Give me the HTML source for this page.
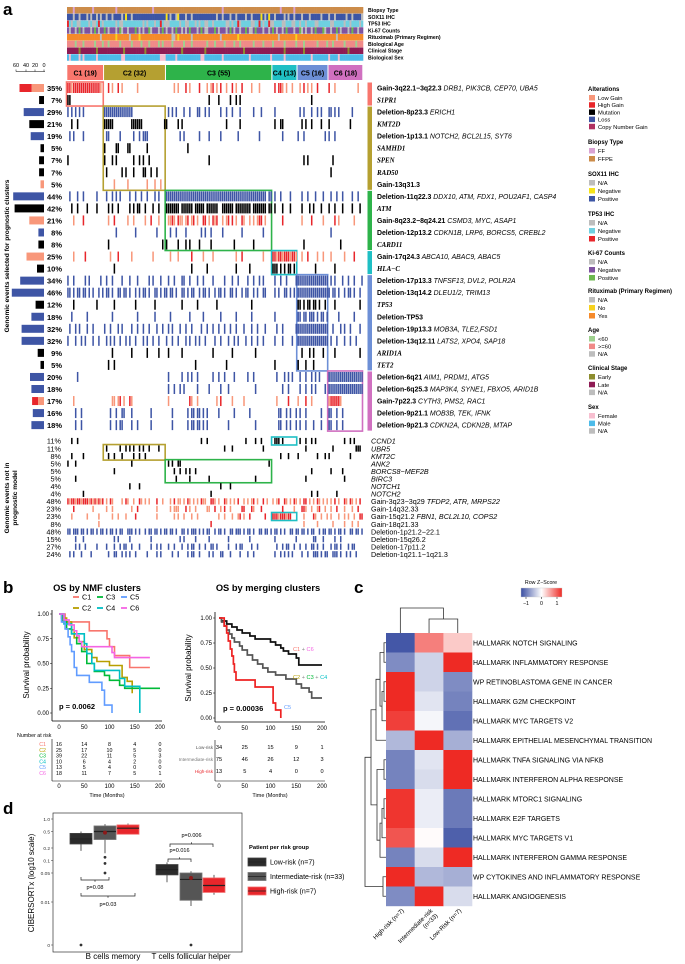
<!DOCTYPE html>
<html><head><meta charset="utf-8">
<style>
html,body{margin:0;padding:0;background:#fff;}
svg{display:block;font-family:"Liberation Sans",sans-serif;}
</style></head>
<body>
<svg id="chart" width="685" height="964" viewBox="0 0 685 964" xmlns="http://www.w3.org/2000/svg"></svg>
<script>
// ---------------- DATA ----------------
const clusterNames=["C1 (19)","C2 (32)","C3 (55)","C4 (13)","C5 (16)","C6 (18)"];
const clusterSizes=[19,32,55,13,16,18];
const trackLabels=["Biopsy Type","SOX11 IHC","TP53 IHC","Ki-67 Counts","Rituximab (Primary Regimen)","Biological Age","Clinical Stage","Biological Sex"];
const trackData=[
"FFFfFFFFFFFFFfFFFFFFFFFFFfFFFFFFFFFFFFFFFFFFfFFFFFFFFFFFFFFFFFFFFFFFFFFFFFFFFFFFfFFFFFFFFFFFFFFFFFFFFFFFFFFFFFfFFFFFFfFFFFFFFFFFFFFFFFFFFFFFFFFFFFFFFFFFFFf",
"PPPnPPnPPPnPnPPnPnPPnPPnPPPPnPyPPnPPPPPPPPPPPPPPPPPyPnPPnyPPPnPPnPPPPPPPPPPPPnPPnPPPnPPnPPPPnPPnPPPPyPnPyPPnPPPPnPnPPnPPPnPPPnPPPPPnPPPnPPnPPPPPnPPnPPPPnPP",
"rcnccnnccccncnncrcnccccccncnnccccccccccncncccnccrcnnncccccnccnncccncnccnnccnccccccnncnccrncccccnnccrcnccrnnccccnncccnnccnccnccccnnccccccnncccccnccnccccnc",
"pnppnpgpnpppnpgpnppgpnpppnpgnppnpppgpnpnppgnpppnpgpnppnpgppnpnpgpppnpgpnnpppgpnpppnpgpnppnppgpnnpgpppnppnpgpnppnpgpppnppgnpnppnpgpppgnppnppgpnpppnpgppnpppgn",
"ooooooooooooooooonoooooooyoooooonooooyoooooooooooooooonnoyoooooonoooooooooooooonooooooooyoooooooooooooooooooonooooooooyoooooooooooooooooooonooooooooooooooooo",
"ssssgsssgsssssgsssgssgsssssgsssssgssssgsssgssssgsgssssgsssssgsssgsssssssgsssgssssgssssgssgssssssgssssgssssgsssssgsssssgsssgssssssgssssgssgsssssgsssssgssssssg",
"mmmmmmommmmmmmmommmmmmmmmmmmmommmmmmmmmmommmmmmmmmmmmmmmmmmommmmmmmmmmmommmmmmmmmmmmmmmmmmmommmmmmmmmmmmmmmmmmmmommmmmmmmmommmmmmmmmmmmmmmmmmmmmmommmmmmmmm",
"bkbbbbkbkbbbbbbkbbbbbbbbbbbbkkbbbbbbbbbbbbbbbbbbkkkbbbbbkbbbbbbbbbbbbkkbbbbbbbbbkbbbbbbbbbbbbbkbbbbbbbbbbkbbbbbbkbbbbbbbbbbbbbkbbbbbbbbkbbbbkbbbbbbbbbbbbbbk"
];
const upperPct=[35,7,29,21,19,5,7,7,5,44,42,21,8,8,25,10,34,46,12,18,32,32,9,5,20,18,17,16,18];
const upperType=["gain","mut","loss","mut","loss","mut","mut","mut","gain","loss","mut","gain","loss","mut","gain","mut","loss","loss","mut","loss","loss","loss","mut","mut","loss","loss","gain","loss","loss"];
const upperBold=["Gain-3q22.1\u22123q22.3","S1PR1","Deletion-8p23.3","KMT2D","Deletion-1p13.1","SAMHD1","SPEN","RAD50","Gain-13q31.3","Deletion-11q22.3","ATM","Gain-8q23.2\u22128q24.21","Deletion-12p13.2","CARD11","Gain-17q24.3","HLA\u2212C","Deletion-17p13.3","Deletion-13q14.2","TP53","Deletion-TP53","Deletion-19p13.3","Deletion-13q12.11","ARID1A","TET2","Deletion-6q21","Deletion-6q25.3","Gain-7p22.3","Deletion-9p21.1","Deletion-9p21.3"];
const upperGenes=["DRB1, PIK3CB, CEP70, UBA5","","ERICH1","","NOTCH2, BCL2L15, SYT6","","","","","DDX10, ATM, FDX1, POU2AF1, CASP4","","CSMD3, MYC, ASAP1","CDKN1B, LRP6, BORCS5, CREBL2","","ABCA10, ABAC9, ABAC5","","TNFSF13, DVL2, POLR2A","DLEU1/2, TRIM13","","","MOB3A, TLE2,FSD1","LATS2, XPO4, SAP18","","","AIM1, PRDM1, ATG5","MAP3K4, SYNE1, FBXO5, ARID1B"," CYTH3, PMS2, RAC1","MOB3B, TEK, IFNK","CDKN2A, CDKN2B, MTAP"];
const upperGeneOnly=[0,1,0,1,0,1,1,1,0,0,1,0,0,1,0,1,0,0,1,0,0,0,1,1,0,0,0,0,0];
const upperRows=[
"hhlhhhhhhhhhhhhhhl.|..h.l..h.l.......l..............|....l.l...h.l....h...l.lh.l.h..l..h.l..h....l...l..|.h.hhl.l..l..|.l.h.l.l..h.....|h..l...........l..",
"mm.................|................................|......................m....m.....m..m.m........|.............|.......m........|..................",
"d.d.d.d.d..........|ddddddddddddddd.................|.d.d.d...d..d...dd..d.d.....d..d..d...d......d...d...|.d...........|.d.d...d..d.d..|dd.d.d......d.....",
"..m..m.............|mmmmm.........mmmmmm...........m|m.....m.m......................m......m............|.m..mm.......|..m.m..m....m...|m..........m......",
".d.d....d..........|.dd.....d......d..d.ddd.........|.......d.d.......d....d.....d........d..........d...|.....d.......|d..d..........d.|d..d..............",
"...................|m.....mm....mm........m.........|...........m..........................................|.............|................|..................",
"m..................|m...m.m........m..m.m..m........|......................m.........................|.............|...m.m..........|..m...............",
"...................|.m.......m.m...m....mm..m..m....|......................................................|.............|................|.m................",
"...................|.....l......l.........l...l..l..|.......................................................|.............|................|..................",
".d...d..d......d...|.d..d.d.d....d..d..d..d...d.d..|dddddddddddddddddddddddddddddddddddddddddddddddddddd.dd|.d..d....d...|..d..d...d...d..|.d..d..d....d..d..",
"..m..m....m....m...|..m.m..m.....m.m.mm..m...m..m..|mmmmmmm.mmmmmm.mmmmm.mmmmmm..mmmmmm.mmmmmmmm.mmmmmmm.mm|.m...m...m...|..m...m.m...m...|m..m...m....m...m.",
"...l....h..........|..l..h......l..l.....l..h...l....|.llhl.hll.lh.lh.l..hh.l.hlh..l.lh.h.l..hl..l.l.lhh.l..|.....h.......|..l....h.....l..|...h.l.......l....",
"...................|......d.........d..........d....|..d..d....d.......d.d..d.....d.........d..........d|.............|................|.d................",
"...................|..m...........................m.|m.....m...m.m....m.....m...........m.........m....|.............|...m............|......m...........",
"...l.....h.........|...l...h......l..........l......|..l...l......h.....l....l...........l..h..........l...|hhlhhlhhhlhhl|..l..h....l..l..|.l......l....h....",
"...................|.....m..........................|.............m.......m..............m......m..........|mmm.m.m.mm.m.|.........m......|...m..............",
"d..d.....d.d.....d.|.d..d....d...d...d.....d.d...d..|.d..d...dd..d...d..d....d.....d...d..d....d..d..d.d..|.d..d..d....d|dddddddddddddddd|.d.d...d..d..d...d",
"dd.d.dd.dd.d.d..d.d|.dd.d..dd.dd.d..d.d.dd.d..dd.d.d|d.dd.d..dd.d.dd..d.dd.d..d.dd.d..dd.d..d.dd..d.d..dd.|.d.d..dd.d.d.|dddddddddddddddd|d.dd.d..d.dd.d..d.",
"...m...........m...|.....m..........m.........m.....|........m.......m.........m.................m.......|.............|mm.m.mm.mm.m..m.|...m............m.",
"..d.......d........|....d............d........d.....|..d.........d......d........d.......d.......d......|.d...........|dd.dd.ddd.d.dd.d|.....d.......d....",
".d..d.d...d..d.....|d..d...d.d....d..d..d..d...d..d.|.d.d...d..d..d....d..d..d..d..d..d..d...d...d..d...d.|..d..d......d|dddddddddddddddd|..d...d.d..d....d.",
"d...d..d.d...d..d..|.d.d.d..d..d.d..d...d.d..d..d...|d..d..d...d.d..d.d..d....d..d...d..d.d...d..d..d..d...|.d...d....d..|dddddddddddddddd|.d..d...d..d..d...",
"...................|....m.........m.......m.....m....|.m......m...............m.........m...........m.....|.............|..m...m.m....m..|...m............m.",
"...................|..m..m.........................|...............m...............m.......................|.m...........|m...m...m.......|..................",
".....d.............|................................|.d......d..d.d..d.......d..d..d....d......d..d.......|..d...d.d.d..|.d..d..d.d.d....|dddddddddddddddddd",
"...................|................................|.d..d..d.d......d.....d.....d...d.............d....|.....d..d....|.d..d..d.d....d.|dddddddddddddddddd",
"...l...............|....ll.lh.l..hl.................|.l..........hl..l.........l.h.....l.....l.............|..l.....h....|l...h..l........|lhhhhhl...........",
"....d..d...........|...d..d..dd...d.........d.......|...d.......d.dd.dd.d.d.....d.......d.......d......|...dd..d.d..d|.d..d.......d...|dd..d..d..........",
"....d..d...........|...d..d.dd....d..d......d.......|...d.......d.dd.dd.d.d..........d.............d...|...dd..d.d..d|.d..d...d...d...|dd..d..d.........."
];
const lowerPct=[11,11,8,5,5,5,4,4,48,23,23,8,48,15,27,24];
const lowerLabel=["CCND1","UBR5","KMT2C","ANK2","BORCS8\u2212MEF2B","BIRC3","NOTCH1","NOTCH2","Gain-3q23\u22123q29","Gain-14q32.33","Gain-15q21.2","Gain-18q21.33","Deletion-1p21.2\u221222.1","Deletion-15q26.2","Deletion-17p11.2","Deletion-1q21.1\u22121q21.3"];
const lowerGenes=["","","","","","","","","  TFDP2, ATR, MRPS22","","  FBN1, BCL2L10, COPS2","","","","",""];
const lowerRows=[
"..m..m.............|................................|..................m..m...................m....m..m.|.mmm.m.......|.m..m..m.m......|........m..m.m....",
"...................|.m......m..m.m.m..m.m..m....m...|..............................m...m...............m..|.............|....m...........|..m...........mmm.",
"..m.....m..........|..m..m...m.....m..m..m..........|..........................................................|....m...m...|m.........m...m.|m..........m......",
"m...m..............|..............m.................|.m.m..mm.............................................m.|.............|................|..................",
"...................|.....m..........................|....m..m..m.m..m...........................................|.............|.......m........|.m.....m..........",
"....m..............|................................|.....m......m.........m.......................m..|.............|....m...........|........m.........",
"...................|.............m....m.............|............................m....m............................|.............|................|..................",
"........m..........|................................|.......................m....................................|.............|.......m..m.....|....m.............",
"hlhhlhhlhhhlhlhlhlh|.l.hl....l.hl..l..hl.l.l...h..l..|..l.h.ll.l.hl.l.l.hll..hhl.l..hl.l.l.h..l.l.lh.l..h.l.|l.lh..hl.l.hl|.l.hh.l.l.hl.l.l|.l.h.l..hl.hl.l.h.",
"...h.........l.....|.l..l.........l..h.........l.....|..l.lll...h.l..l.....ll..h..l.h..l.....hh...hl...h...|.....h.....l.|..hhl..l..lh..l.|.l..h...l...l..h..",
"..l.......l.....l..|....l..l...l....h..........l....|....l.l..l...l..l..........l..l...l..lh.l..h.......h....|hhhlhhhlhh...|...l....hl..l..l|.l...l..l.l..l..hh",
"................l..|................................|.......................h....................................|.............|...l......l.....|..l.....l...l..l..",
"dd.ddd.dd.d.dd.d.dd|.d.dd.d.dd..ddd.d.d..d.dd.dd.d.d|d.dd.d..dd.d.ddd.d.d.dd..d.dd.d..dd.ddd.d.dd.d..dd.dd.d|.dd.d.d..dd.d|d.dd.d.dd..d.dd.|dd.d.dd.d..dd.dd.d",
"....d...d..........|.....d.d.....d..........d.......|.......d.d.....d......d.........d..........d.......|.d..........d|........dd...d..|...d..d...........",
"....d.d..d.....d...|.d...d..d.dd..d...d.....d..d.d..|.d..d...d..d.dd..d..d..dd.d.....d...d.dd....d..d...|..d..d.dd..d.|.d..d..dd.d..d..|.d.dd.d...d.dd....",
".d.d...d....d......|..d..dd..d.d.d..d.....d....d.d..|...d..d....d.dd..d....d.d...dd...d....d...d..d...|.d..d.d.d.d..|..d..d..ddd.d.dd|..ddd.d..d.d..d..."
];
// KM panel b (time, survival) step points
const kmTicks=[0,50,100,150,200];
const kmYTicks=[0,0.25,0.5,0.75,1];
const nmfNames=["C1","C2","C3","C4","C5","C6"];
const nmfC1=[[0,1],[12,0.92],[60,0.83],[95,0.75],[100,0.67],[110,0.58],[140,0.46],[180,0.46]];
const nmfC2=[[0,1],[5,0.96],[15,0.92],[25,0.84],[30,0.76],[40,0.72],[50,0.64],[65,0.56],[75,0.52],[100,0.48],[125,0.36],[135,0.32],[145,0.2],[145,0.2]];
const nmfC3=[[0,1],[8,0.92],[15,0.85],[25,0.8],[35,0.7],[45,0.62],[55,0.5],[70,0.42],[90,0.38],[100,0.33],[120,0.28],[130,0.25],[200,0.25]];
const nmfC4=[[0,1],[10,0.9],[25,0.8],[50,0.7],[55,0.6],[65,0.5],[70,0.43],[120,0.35],[130,0.27],[160,0],[160,0]];
const nmfC5=[[0,1],[5,0.92],[12,0.85],[18,0.77],[22,0.69],[25,0.62],[30,0.46],[35,0.38],[55,0.38],[60,0.31],[85,0.23],[90,0.08],[105,0],[105,0]];
const nmfC6=[[0,1],[10,0.94],[20,0.89],[30,0.83],[35,0.78],[40,0.72],[45,0.67],[100,0.67],[105,0.61],[110,0.56],[180,0.56]];
const nmfRisk=[[16,14,8,4,0],[25,17,10,5,0],[39,22,11,5,3],[10,6,4,2,0],[13,5,4,0,0],[18,11,7,5,1]];
const mergeNames=["Low-risk","Intermediate-risk","High-risk"];
const mergeLow=[[0,1],[5,0.97],[15,0.94],[25,0.91],[35,0.88],[45,0.85],[60,0.82],[70,0.79],[100,0.76],[110,0.73],[120,0.7],[125,0.67],[135,0.64],[150,0.6],[155,0.53],[200,0.53]];
const mergeInter=[[0,1],[5,0.96],[10,0.92],[15,0.88],[20,0.84],[25,0.8],[30,0.76],[40,0.72],[45,0.68],[55,0.63],[65,0.58],[75,0.54],[85,0.5],[95,0.46],[110,0.43],[130,0.39],[150,0.34],[160,0.3],[175,0.26],[180,0.2],[200,0.2]];
const mergeHigh=[[0,1],[10,0.92],[15,0.85],[18,0.77],[22,0.69],[25,0.62],[28,0.54],[30,0.46],[33,0.38],[70,0.31],[95,0.31],[105,0.15],[110,0.08],[120,0],[120,0]];
const mergeRisk=[[34,25,15,9,1],[75,46,26,12,3],[13,5,4,0,0]];
// Heatmap panel c
const hmCols=["High-risk (n=7)","Intermediate-risk|(n=33)","Low-Risk (n=7)"];
const hmRows=["HALLMARK NOTCH SIGNALING","HALLMARK INFLAMMATORY RESPONSE","WP RETINOBLASTOMA GENE IN CANCER","HALLMARK G2M CHECKPOINT","HALLMARK MYC TARGETS V2","HALLMARK EPITHELIAL MESENCHYMAL TRANSITION","HALLMARK TNFA SIGNALING VIA NFKB","HALLMARK INTERFERON ALPHA RESPONSE","HALLMARK MTORC1 SIGNALING","HALLMARK E2F TARGETS","HALLMARK MYC TARGETS V1","HALLMARK INTERFERON GAMMA RESPONSE","WP CYTOKINES AND INFLAMMATORY RESPONSE","HALLMARK ANGIOGENESIS"];
const hmHigh=[-0.95,-0.65,1,1,0.9,-0.4,-0.7,-0.7,0.95,0.95,0.8,-0.7,1,-0.65];
const hmInter=[0.6,-0.25,-0.25,-0.15,-0.05,1,-0.15,-0.2,-0.1,-0.1,0.02,-0.2,-0.4,1];
const hmLow=[0.25,1,-0.65,-0.7,-0.8,-0.45,1,1,-0.75,-0.75,-0.9,1,-0.45,-0.2];
// Boxplot panel d  [min,q1,median,q3,max]
const bxCats=["B cells memory","T cells follicular helper"];
const bxGroups=["Low-risk (n=7)","Intermediate-risk (n=33)","High-risk (n=7)"];
const bxB=[[0.17,0.25,0.33,0.45,0.5],[0.15,0.32,0.5,0.68,0.75],[0.43,0.43,0.6,0.72,0.78]];
const bxT=[[0.03,0.045,0.06,0.08,0.09],[0.008,0.011,0.035,0.05,0.055],[0.015,0.017,0.025,0.038,0.045]];
const bxOutB=[[0],[0.12,0.085,0.05],[]];
const bxOutT=[[],[0],[]];
const bxMeanB=[null,0.47,null];
const bxMeanT=[null,0.038,null];
const bxYTicks=[1.0,0.5,0.2,0.1,0.05,0.01,0];
const bxYTickLabels=["1.0","0.5","0.2","0.1","0.05","0.01","0"];

// ---------------- HELPERS ----------------
const NS='http://www.w3.org/2000/svg';
const svg=document.getElementById('chart');
function mk(tag,attrs,parent){const e=document.createElementNS(NS,tag);for(const k in attrs)e.setAttribute(k,attrs[k]);(parent||svg).appendChild(e);return e;}
function tx(x,y,s,size,attrs,parent){const a=Object.assign({x:x,y:y,'font-size':size},attrs||{});const t=mk('text',a,parent);t.textContent=s;return t;}
function grp(name){const g=mk('g',{});return g;}

const C={low:'#f8977a',high:'#e8262b',mut:'#000',loss:'#3e55a5',cn:'#b03060'};
const codeCol={l:C.low,h:C.high,m:C.mut,d:C.loss,c:C.cn};
const clusterCols=['#f8766d','#b5a031','#2eb34a','#1fbfc4','#6d8fd6','#d070c0'];

// ---------------- PANEL A ----------------
const pa=grp('panel-a');
let lab=tx(3,15,'a',17,{'font-weight':'bold'},pa);


const X0=67, SW=296/153;
function sx(i){return X0+i*SW;}
const starts=[];{let s=0;clusterSizes.forEach(n=>{starts.push(s);s+=n;});}

// annotation tracks
const trackMaps=[{F:'#cc8c4a',f:'#d9a3d3'},{P:'#3c55a5',n:'#bdbdbd',y:'#f5e31a'},{c:'#6fd0e0',n:'#bdbdbd',r:'#e8262b'},{p:'#7e52a0',g:'#6cb84f',n:'#bdbdbd'},{o:'#f58a2a',y:'#f7d21e',n:'#bdbdbd'},{s:'#f08a88',g:'#9fd18f',n:'#bdbdbd'},{m:'#8e1b54',o:'#8d8d2e',n:'#bdbdbd'},{b:'#4dbbe9',k:'#f7bfd0',n:'#bdbdbd'}];
const ga=grp('annotation-tracks');
trackData.forEach((s0,k)=>{
  const s=s0.padEnd(153,s0);
  const y=7+k*6.75;
  for(let i=0;i<153;i++){
    const r=mk('rect',{x:sx(i).toFixed(2),y:y,width:(SW+0.3).toFixed(2),height:6.5,fill:trackMaps[k][s[i]]||'#bdbdbd'},ga);
    
    
  }
  const t=tx(368,y+5,trackLabels[k],5.2,{'font-weight':'bold'},ga);
  
  
});
// cluster headers
clusterNames.forEach((n,c)=>{
  const x1=sx(starts[c])+0.3, x2=sx(starts[c]+clusterSizes[c])-0.7;
  const r=mk('rect',{x:x1,y:65,width:x2-x1,height:15,fill:clusterCols[c]},pa);
  
  
  const t=tx((x1+x2)/2,75.5,n,7,{'font-weight':'bold','text-anchor':'middle'},pa);
  
  
});
// left axis for bars
const BARX=44, BPX=0.7;
mk('line',{x1:16,x2:45,y1:71.5,y2:71.5,stroke:'#000','stroke-width':0.6},pa);
[['60',16],['40',26],['20',35],['0',44]].forEach(a=>{tx(a[1],67,a[0],5.5,{'text-anchor':'middle'},pa);mk('line',{x1:a[1],x2:a[1],y1:69.5,y2:71.5,stroke:'#000','stroke-width':0.5},pa);});

function drawRows(rows,y0,dy,h,grpName){
  const g=grp(grpName);
  rows.forEach((row,r)=>{
    const parts=row.split('|');
    parts.forEach((p0,c)=>{
      const p=p0.padEnd(clusterSizes[c],'.').slice(0,clusterSizes[c]);
      for(let j=0;j<p.length;j++){
        const col=codeCol[p[j]]; if(!col) continue;
        const rc=mk('rect',{x:(sx(starts[c]+j)+0.2).toFixed(2),y:(y0+r*dy-h/2).toFixed(2),width:(SW*0.78).toFixed(2),height:h,fill:col},g);
        
        
      }
    });
  });
}
const UY=88, UDY=12.04, LY=441, LDY=7.55;
drawRows(upperRows,UY,UDY,10,'oncoprint-prognostic');
drawRows(lowerRows,LY,LDY,6.2,'oncoprint-other');

// boxes upper
function box(x1,x2,y1,y2,col,name){const r=mk('rect',{x:x1,y:y1,width:x2-x1,height:y2-y1,fill:'none',stroke:col,'stroke-width':1.6},pa);}
const groupRows=[[0,1],[2,8],[9,13],[14,15],[16,23],[24,28]];
groupRows.forEach((gr,c)=>{
  const x1=sx(starts[c])-0.5, x2=sx(starts[c]+clusterSizes[c])-0.5;
  box(x1,x2,UY+gr[0]*UDY-6,UY+gr[1]*UDY+6,clusterCols[c],'cluster-box');
  const r=mk('rect',{x:367.5,y:UY+gr[0]*UDY-5.5,width:4.5,height:(gr[1]-gr[0])*UDY+11,fill:clusterCols[c]},pa);
  
  
});
box(sx(19)-0.5,sx(51)-0.5,LY+LDY*1-4,LY+LDY*2+4,'#b5a031','cluster-box-lower');
box(sx(51)-0.5,sx(106)-0.5,LY+LDY*3-4,LY+LDY*5+4,'#2eb34a','cluster-box-lower');
box(sx(106)-0.5,sx(119)-0.5,LY-4,LY+4,'#1fbfc4','cluster-box-lower');
box(sx(106)-0.5,sx(119)-0.5,LY+LDY*10-4,LY+LDY*10+4,'#1fbfc4','cluster-box-lower');

// left bars and pct and right labels (upper)
const typeCol={gain:C.low,mut:C.mut,loss:C.loss};
upperPct.forEach((p,r)=>{
  const y=UY+r*UDY, w=p*BPX;
  if(upperType[r]==='gain'&&(r===0||r===26)){
    const b1=mk('rect',{x:BARX-w,y:y-4,width:w*0.5,height:8,fill:C.high},pa);
    
    
    const b2=mk('rect',{x:BARX-w*0.5,y:y-4,width:w*0.5,height:8,fill:C.low},pa);
    
    
  } else {
    const b=mk('rect',{x:BARX-w,y:y-4,width:w,height:8,fill:typeCol[upperType[r]]},pa);
    
    
  }
  const t=tx(62,y+3,p+'%',7.5,{'font-weight':'bold','text-anchor':'end'},pa);
  
  
  const lt=mk('text',{x:377,y:y+2.5,'font-size':6.9},pa);
  
  
  const s1=mk('tspan',{'font-weight':'bold'},lt);
  if(upperGeneOnly[r]){s1.setAttribute('font-family','Liberation Serif, serif');s1.setAttribute('font-style','italic');}
  s1.textContent=upperBold[r];
  if(upperGenes[r]){const s2=mk('tspan',{'font-style':'italic'},lt);s2.textContent=' '+upperGenes[r];}
});
lowerPct.forEach((p,r)=>{
  const y=LY+r*LDY;
  const t=tx(61,y+2.7,p+'%',7.3,{'text-anchor':'end'},pa);
  
  
  const lt=mk('text',{x:371,y:y+2.7,'font-size':7.2},pa);
  
  
  const s1=mk('tspan',{},lt);
  if(r<8)s1.setAttribute('font-style','italic');
  s1.textContent=lowerLabel[r];
  if(lowerGenes[r]){const s2=mk('tspan',{'font-style':'italic'},lt);s2.textContent=lowerGenes[r];}
});
let rl=tx(0,0,'Genomic events selected for prognostic clusters',6.6,{'font-weight':'bold','text-anchor':'middle',transform:'translate(9,256) rotate(-90)'},pa);

rl=tx(0,0,'Genomic events not in',6.6,{'font-weight':'bold','text-anchor':'middle',transform:'translate(9,498) rotate(-90)'},pa);

rl=tx(0,0,'prognostic model',6.6,{'font-weight':'bold','text-anchor':'middle',transform:'translate(17,498) rotate(-90)'},pa);


// legend
const lg=grp('legend-a');
const legendSpec=[
 ['Alterations',91,[['Low Gain',C.low],['High Gain',C.high],['Mutation',C.mut],['Loss',C.loss],['Copy Number Gain',C.cn]],7.2],
 ['Biopsy Type',144,[['FF','#d9a3d3'],['FFPE','#cc8c4a']],8],
 ['SOX11 IHC',176,[['N/A','#bdbdbd'],['Negative','#f5e31a'],['Positive','#3c55a5']],8],
 ['TP53 IHC',216,[['N/A','#bdbdbd'],['Negative','#6fd0e0'],['Positive','#e8262b']],8],
 ['Ki-67 Counts',255,[['N/A','#bdbdbd'],['Negative','#7e52a0'],['Positive','#6cb84f']],8],
 ['Rituximab (Primary Regimen)',293,[['N/A','#bdbdbd'],['No','#f7d21e'],['Yes','#f58a2a']],8],
 ['Age',332,[['<60','#9fd18f'],['>=60','#f08a88'],['N/A','#bdbdbd']],7.6],
 ['Clinical Stage',370,[['Early','#8d8d2e'],['Late','#8e1b54'],['N/A','#bdbdbd']],7.8],
 ['Sex',409,[['Female','#f7bfd0'],['Male','#4dbbe9'],['N/A','#bdbdbd']],7.6]
];
legendSpec.forEach(sp=>{
  const t=tx(588,sp[1],sp[0],6,{'font-weight':'bold'},lg);
  
  
  sp[2].forEach((it,i)=>{
    const y=sp[1]+9+i*sp[3];
    const r=mk('rect',{x:589,y:y-5,width:6,height:5.5,fill:it[1]},lg);
    
    
    const tt=tx(598,y,it[0],5.8,{},lg);
    
    
  });
});

// ---------------- PANEL B ----------------
function stepPath(pts,xs,ys){let d='M'+xs(pts[0][0])+','+ys(pts[0][1]);for(let i=1;i<pts.length;i++){d+=' H'+xs(pts[i][0]).toFixed(1)+' V'+ys(pts[i][1]).toFixed(1);}return d;}
const pb=grp('panel-b');
lab=tx(3,593,'b',17,{'font-weight':'bold'},pb);

// left KM
const kx1=t=>59+t*0.505, ky1=s=>713-s*99;
let tt=tx(97,591,'OS by NMF clusters',9.3,{'font-weight':'bold','text-anchor':'middle'},pb);

const nmfCols=['#f8766d','#b79f00','#00ba38','#00bfc4','#619cff','#f564e3'];
const legPos=[[73,597],[73,608],[97,597],[97,608],[121,597],[121,608]];
nmfNames.forEach((n,i)=>{
  const p=legPos[i];
  const l=mk('line',{x1:p[0],x2:p[0]+6,y1:p[1],y2:p[1],stroke:nmfCols[i],'stroke-width':1.8},pb);
  
  
  const t=tx(p[0]+9,p[1]+2.6,n,7.2,{},pb);
  
  
});
mk('line',{x1:52,x2:52,y1:610,y2:721,stroke:'#000','stroke-width':0.8},pb);
mk('line',{x1:52,x2:162,y1:721,y2:721,stroke:'#000','stroke-width':0.8},pb);
kmYTicks.forEach(v=>{const t=tx(49,ky1(v)+2,v.toFixed(2),6,{'text-anchor':'end'},pb);mk('line',{x1:50,x2:52,y1:ky1(v),y2:ky1(v),stroke:'#000','stroke-width':0.5},pb);});
kmTicks.forEach(v=>{const t=tx(kx1(v),729,String(v),6,{'text-anchor':'middle'},pb);});
tt=tx(0,0,'Survival probability',8,{'text-anchor':'middle',transform:'translate(29,665) rotate(-90)'},pb);

[nmfC1,nmfC2,nmfC3,nmfC4,nmfC5,nmfC6].forEach((d,i)=>{
  const p=mk('path',{d:stepPath(d,kx1,ky1),fill:'none',stroke:nmfCols[i],'stroke-width':1.6},pb);
  
  
});
tt=tx(59,709,'p = 0.0062',7.5,{'font-weight':'bold'},pb);

tt=tx(17,737,'Number at risk',5.3,{},pb);

mk('line',{x1:52,x2:52,y1:739,y2:781,stroke:'#000','stroke-width':0.6},pb);
mk('line',{x1:52,x2:162,y1:781,y2:781,stroke:'#000','stroke-width':0.6},pb);
nmfRisk.forEach((row,i)=>{
  const y=746+i*5.8;
  const t=tx(46,y,nmfNames[i],5.3,{'text-anchor':'end',fill:nmfCols[i]},pb);
  
  
  row.forEach((v,j)=>{const c=tx(kx1(kmTicks[j]),y,String(v),5.3,{'text-anchor':'middle'},pb);});
});
kmTicks.forEach(v=>{const t=tx(kx1(v),788,String(v),6,{'text-anchor':'middle'},pb);});
tt=tx(107,797,'Time (Months)',5.5,{'text-anchor':'middle'},pb);


// right KM
const kx2=t=>219+t*0.515, ky2=s=>718-s*100;
tt=tx(268,591,'OS by merging clusters',9.3,{'font-weight':'bold','text-anchor':'middle'},pb);

mk('line',{x1:215,x2:215,y1:612,y2:722,stroke:'#000','stroke-width':0.8},pb);
mk('line',{x1:215,x2:325,y1:722,y2:722,stroke:'#000','stroke-width':0.8},pb);
kmYTicks.forEach(v=>{const t=tx(212,ky2(v)+2,v.toFixed(2),6,{'text-anchor':'end'},pb);mk('line',{x1:213,x2:215,y1:ky2(v),y2:ky2(v),stroke:'#000','stroke-width':0.5},pb);});
kmTicks.forEach(v=>{const t=tx(kx2(v),730,String(v),6,{'text-anchor':'middle'},pb);});
tt=tx(0,0,'Survival probability',8,{'text-anchor':'middle',transform:'translate(191,668) rotate(-90)'},pb);

const mergeCols=['#111','#555','#ee2222'];
[mergeLow,mergeInter,mergeHigh].forEach((d,i)=>{
  const p=mk('path',{d:stepPath(d,kx2,ky2),fill:'none',stroke:mergeCols[i],'stroke-width':1.7},pb);
  
  
});
let an=mk('text',{x:293,y:651,'font-size':5.6},pb);

[['C1','#f8766d'],[' + ','#888'],['C6','#f564e3']].forEach(a=>{const s=mk('tspan',{fill:a[1]},an);s.textContent=a[0];});
an=mk('text',{x:293,y:679,'font-size':5.6},pb);

[['C2','#b79f00'],[' + ','#888'],['C3','#00ba38'],[' + ','#888'],['C4','#00bfc4']].forEach(a=>{const s=mk('tspan',{fill:a[1]},an);s.textContent=a[0];});
an=tx(284,709,'C5',5.6,{fill:'#619cff'},pb);

tt=tx(223,711,'p = 0.00036',7.5,{'font-weight':'bold'},pb);

mk('line',{x1:215,x2:215,y1:740,y2:781,stroke:'#000','stroke-width':0.6},pb);
mk('line',{x1:215,x2:325,y1:781,y2:781,stroke:'#000','stroke-width':0.6},pb);
const mLabCol=['#555','#777','#e8262b'];
mergeRisk.forEach((row,i)=>{
  const y=749+i*12;
  const t=tx(213,y,mergeNames[i],4.6,{'text-anchor':'end',fill:mLabCol[i]},pb);
  
  
  row.forEach((v,j)=>{const c=tx(kx2(kmTicks[j]),y,String(v),5.6,{'text-anchor':'middle'},pb);});
});
kmTicks.forEach(v=>{const t=tx(kx2(v),788,String(v),6,{'text-anchor':'middle'},pb);});
tt=tx(270,797,'Time (Months)',5.5,{'text-anchor':'middle'},pb);


// ---------------- PANEL C ----------------
const pc=grp('panel-c');
lab=tx(354,593,'c',17,{'font-weight':'bold'},pc);

const HX=386, HW=28.7, HY=633, HH=19.5;
function zcol(v){v=Math.max(-1,Math.min(1,v));const b=[58,78,162],r=[238,42,36],w=[255,255,255];const t=Math.abs(v);const c=v<0?b:r;return 'rgb('+c.map((cc,i)=>Math.round(w[i]+(cc-w[i])*t)).join(',')+')';}
[hmHigh,hmInter,hmLow].forEach((col,ci)=>{
  col.forEach((v,ri)=>{
    const r=mk('rect',{x:HX+ci*HW,y:HY+ri*HH,width:HW+0.2,height:HH+0.2,fill:zcol(v)},pc);
    
    
  });
});
hmRows.forEach((n,ri)=>{const t=tx(473,HY+ri*HH+HH/2+2.5,n,7,{},pc);});
hmCols.forEach((n,ci)=>{
  const cx=HX+ci*HW+HW/2+4, cy=911;
  const parts=n.split('|');
  parts.forEach((p,k)=>{const t=tx(0,0,p,6.2,{'text-anchor':'end',transform:'translate('+(cx+k*5)+','+(cy+k*5)+') rotate(-45)'},pc);});
});
// column dendrogram
const cc=i=>HX+i*HW+HW/2;
let dd='M'+cc(1)+',633 V619 H'+cc(2)+' V633 M'+cc(0)+',633 V608 H'+((cc(1)+cc(2))/2)+' V619';
let dp=mk('path',{d:dd,fill:'none',stroke:'#333','stroke-width':0.8},pc);

// row dendrogram (manual structure)
const ry=i=>HY+i*HH+HH/2;
const merges=[[0,1,384],[2,3,384],['2-3',4,382],['0-1','2-4',380],['0-4',5,376],[6,7,384],[8,9,384],['8-9',10,382],['8-10',11,380],['6-7','8-11',377],['0-5','6-11',371],[12,13,383],['0-11','12-13',365]];
const nodes={};for(let i=0;i<14;i++)nodes[i]={y:ry(i),x:HX};
function nk(k){if(typeof k==='number')return nodes[k];return nodes[k];}
nodes['2-3']=null;
let rd='';
const named={};
function get(k){return typeof k==='number'?nodes[k]:named[k];}
merges.forEach(m=>{
  const a=get(m[0]),b=get(m[1]),x=m[2];
  rd+='M'+a.x+','+a.y+' H'+x+' V'+b.y+' H'+b.x+' ';
  const node={x:x,y:(a.y+b.y)/2};
  const la=typeof m[0]==='number'?m[0]:+String(m[0]).split('-')[0];
  const hbRaw=typeof m[1]==='number'?m[1]:+String(m[1]).split('-').pop();
  named[la+'-'+hbRaw]=node;
});
dp=mk('path',{d:rd,fill:'none',stroke:'#333','stroke-width':0.8},pc);

// color key
const defs=mk('defs',{});
const lgr=mk('linearGradient',{id:'zg',x1:0,x2:1,y1:0,y2:0},defs);
mk('stop',{offset:'0','stop-color':zcol(-1)},lgr);mk('stop',{offset:'0.5','stop-color':'#fff'},lgr);mk('stop',{offset:'1','stop-color':zcol(1)},lgr);
tt=tx(541,584,'Row Z\u2212Score',5.3,{'text-anchor':'middle'},pc);

let ck=mk('rect',{x:521,y:588,width:41,height:9,fill:'url(#zg)',stroke:'#ccc','stroke-width':0.4},pc);

[['\u22121',526],['0',541.5],['1',557]].forEach(a=>{mk('line',{x1:a[1],x2:a[1],y1:597,y2:599,stroke:'#000','stroke-width':0.5},pc);const t=tx(a[1],605,a[0],5.3,{'text-anchor':'middle'},pc);});

// ---------------- PANEL D ----------------
const pd=grp('panel-d');
lab=tx(3,814,'d',17,{'font-weight':'bold'},pd);

const by=v=>v<=0?945:819-Math.log10(v)*41.5;
let fr=mk('rect',{x:53,y:813,width:189,height:139,fill:'none',stroke:'#333','stroke-width':0.7},pd);

bxYTicks.forEach((v,i)=>{mk('line',{x1:51,x2:53,y1:by(v),y2:by(v),stroke:'#333','stroke-width':0.5},pd);const t=tx(50,by(v)+1.8,bxYTickLabels[i],4.8,{'text-anchor':'end',fill:'#333'},pd);});
tt=tx(0,0,'CIBERSORTx (log10 scale)',8,{'text-anchor':'middle',transform:'translate(34,883) rotate(-90)'},pd);

const catX=[105,191], off=[-24,0,23], bw=22;
const fillCols=['#2b2b2b','#555','#e8262b'], strokeCols=['#444','#777','#f26b6b'];
[bxB,bxT].forEach((cat,ci)=>{
  const outs=ci===0?bxOutB:bxOutT, means=ci===0?bxMeanB:bxMeanT;
  cat.forEach((s,gi)=>{
    const cx=catX[ci]+off[gi];
    const w=mk('line',{x1:cx,x2:cx,y1:by(s[0]),y2:by(s[4]),stroke:'#333','stroke-width':0.8},pd);
    
    const b=mk('rect',{x:cx-bw/2,y:by(s[3]),width:bw,height:Math.max(1,by(s[1])-by(s[3])),fill:fillCols[gi],stroke:strokeCols[gi],'stroke-width':0.8},pd);
    
    const md=mk('line',{x1:cx-bw/2,x2:cx+bw/2,y1:by(s[2]),y2:by(s[2]),stroke:'#222','stroke-width':1.2},pd);
    
    outs[gi].forEach(o=>{const c=mk('circle',{cx:cx,cy:by(o),r:1.4,fill:'#333'},pd);});
    if(means[gi]!==null){const c=mk('circle',{cx:cx,cy:by(means[gi]),r:2,fill:'#8b1a1a'},pd);}
  });
  const t=tx(catX[ci]+(ci===0?8:0),959,bxCats[ci],8,{'text-anchor':'middle'},pd);
  
});
function brk(x1,x2,y,up,p,py){const s=up?-3:3;const d='M'+x1+','+(y+s)+' V'+y+' H'+x2+' V'+(y+s)+' M'+((x1+x2)/2)+','+y+' V'+(y-s*0.6);const b=mk('path',{d:d,fill:'none',stroke:'#222','stroke-width':0.7},pd);const t=tx((x1+x2)/2,py,p,5.5,{'text-anchor':'middle'},pd);}
brk(81,109,880,true,'p=0.08',889);
brk(81,135,896,true,'p=0.03',906);
brk(168,191,859,false,'p=0.016',852);
brk(170,213,844,false,'p=0.006',837);
tt=tx(249,849,'Patient per risk group',5.8,{'font-weight':'bold'},pd);

bxGroups.forEach((g,i)=>{
  const y=862+i*14.5;
  const r=mk('rect',{x:248,y:y-4,width:18,height:8,fill:fillCols[i],stroke:strokeCols[i],'stroke-width':0.8},pd);
  
  mk('line',{x1:248,x2:266,y1:y,y2:y,stroke:'#222','stroke-width':0.8},pd);
  const t=tx(270,y+2.5,g,7,{},pd);
  
});
</script>
</body></html>
